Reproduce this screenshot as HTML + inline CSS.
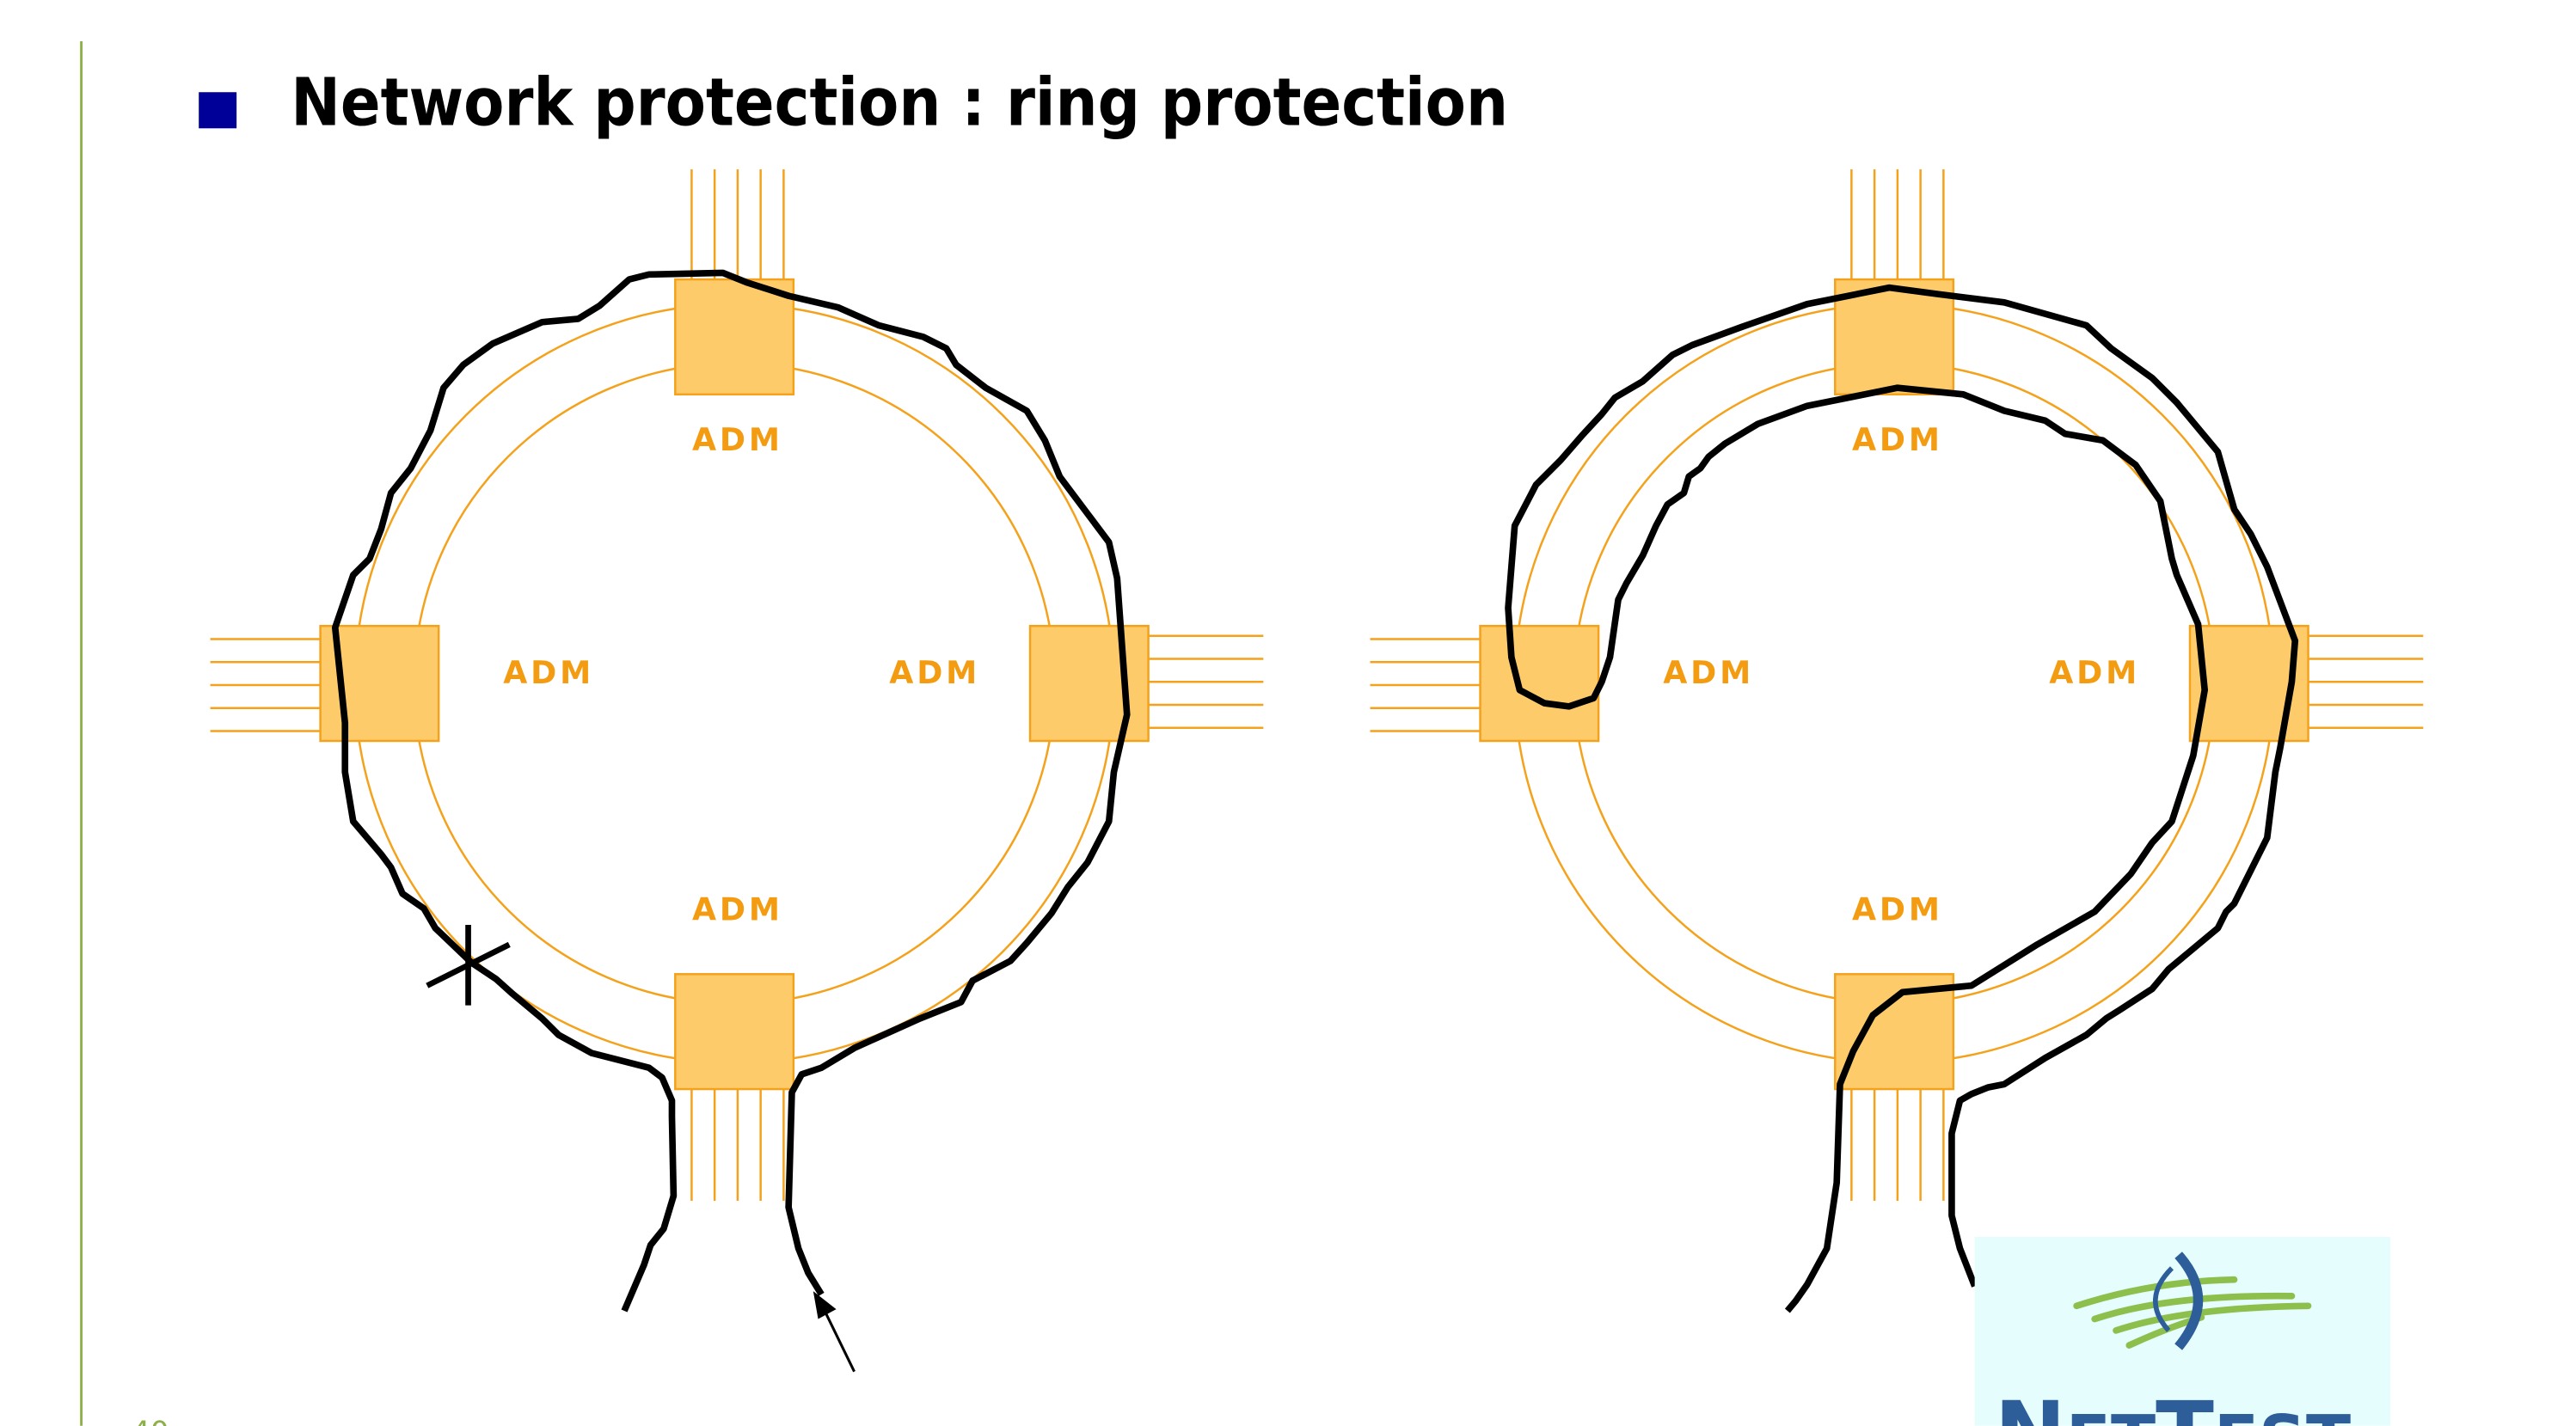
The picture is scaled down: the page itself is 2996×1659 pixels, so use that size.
<!DOCTYPE html>
<html><head><meta charset="utf-8"><style>
html,body{margin:0;padding:0;background:#fff;}
svg{display:block;}
</style></head><body>
<svg width="2996" height="1659" viewBox="0 0 1568 868" xmlns="http://www.w3.org/2000/svg">
<rect width="1568" height="868" fill="#fff"/>
<line x1="49.5" y1="25" x2="49.5" y2="868" stroke="#8DB04A" stroke-width="1.5"/>
<rect x="121" y="56" width="23" height="22" fill="#000099"/>
<text x="177" y="76" font-family="DejaVu Sans, Liberation Sans, sans-serif" font-weight="bold" font-size="40" textLength="741" lengthAdjust="spacingAndGlyphs">Network protection : ring protection</text>
<text x="80" y="878" font-family="DejaVu Sans, Liberation Sans, sans-serif" font-size="18" fill="#8DB04A">40</text>

<g id="ringL" stroke="#F4A11B" stroke-width="1.3" fill="none">
<circle cx="447" cy="416" r="231"/>
<circle cx="447" cy="416" r="195"/>
<path d="M421 103V170M435 103V170M449 103V170M463 103V170M477 103V170"/>
<path d="M421 663V731M435 663V731M449 663V731M463 663V731M477 663V731"/>
<path d="M128 389H195M128 403H195M128 417H195M128 431H195M128 445H195"/>
<path d="M699 387H769M699 401H769M699 415H769M699 429H769M699 443H769"/>
<g fill="#FECB6B">
<rect x="411" y="170" width="72" height="70"/>
<rect x="195" y="381" width="72" height="70"/>
<rect x="627" y="381" width="72" height="70"/>
<rect x="411" y="593" width="72" height="70"/>
</g>
</g>
<g font-family="DejaVu Sans, Liberation Sans, sans-serif" font-weight="bold" font-size="19" fill="#F39C12" text-anchor="middle" letter-spacing="2">
<text x="449" y="274">ADM</text><text x="334" y="416">ADM</text><text x="569" y="416">ADM</text><text x="449" y="560">ADM</text>
</g>
<use href="#ringL" x="706"/>
<g font-family="DejaVu Sans, Liberation Sans, sans-serif" font-weight="bold" font-size="19" fill="#F39C12" text-anchor="middle" letter-spacing="2">
<text x="1155" y="274">ADM</text><text x="1040" y="416">ADM</text><text x="1275" y="416">ADM</text><text x="1155" y="560">ADM</text>
</g>

<g stroke="#000" stroke-width="4" fill="none" stroke-linejoin="round" stroke-linecap="butt">
<path d="M380 798 L392 770 L396 758 L404 748 L410 728 L409 680 L409 670 L403 656 L395 650 L360 641 L340 630 L330 620 L312 605 L302 596 L287 586 L265 565 L258 553 L245 544 L238 528 L232 520 L215 500 L210 470 L210 440 L204 382 L215 350 L225 340 L232 322 L238 300 L250 285 L262 262 L270 236 L282 222 L300 209 L330 196 L352 194 L365 186 L383 170 L395 167 L440 166 L455 172 L480 180 L510 187 L535 198 L562 205 L576 212 L582 222 L600 236 L625 250 L636 268 L645 290 L675 330 L680 352 L686 435 L678 470 L675 500 L662 525 L650 540 L640 556 L625 574 L615 585 L592 597 L585 610 L560 620 L520 638 L500 650 L488 654 L482 665 L480 735 L486 760 L492 775 L500 788"/>
<path d="M1088 798 L1093 792 L1100 782 L1112 760 L1118 720 L1120 660 L1128 640 L1140 618 L1158 604 L1200 600 L1240 575 L1275 555 L1297 532 L1310 513 L1322 500 L1335 460 L1342 420 L1338 380 L1325 350 L1322 340 L1315 305 L1300 283 L1280 268 L1257 264 L1245 256 L1220 250 L1195 240 L1155 236 L1130 241 L1100 247 L1070 258 L1050 270 L1040 278 L1035 285 L1028 290 L1025 300 L1015 307 L1008 320 L1000 338 L990 355 L985 365 L980 400 L975 415 L970 425 L955 430 L940 428 L925 420 L920 400 L918 370 L922 320 L935 295 L950 280 L963 265 L975 252 L983 242 L1000 232 L1018 216 L1030 210 L1060 199 L1100 185 L1150 175 L1180 179 L1220 184 L1270 198 L1285 212 L1310 230 L1325 245 L1350 275 L1360 310 L1370 325 L1380 345 L1397 390 L1395 415 L1388 455 L1385 470 L1380 510 L1375 520 L1360 550 L1355 555 L1350 565 L1320 590 L1310 602 L1290 615 L1282 620 L1270 630 L1245 644 L1220 660 L1210 662 L1200 666 L1193 670 L1188 690 L1188 740 L1193 760 L1202 783"/>
<path d="M260 600 L310 575 M285 563 L285 612" stroke-width="3.5"/>
</g>
<line x1="520" y1="835" x2="501" y2="796" stroke="#000" stroke-width="1.6"/>
<polygon points="495,786 509,797 498,803" fill="#000"/>

<rect x="1202" y="753" width="253" height="115" fill="#E6FDFE"/>
<g stroke="#8DBF4C" stroke-width="4" stroke-linecap="round" fill="none">
<path d="M1264 795 Q1310 780 1360 779"/>
<path d="M1275 803 Q1320 788 1395 789"/>
<path d="M1288 810 Q1330 796 1405 795"/>
<path d="M1296 819 Q1320 808 1340 802"/>
</g>
<path d="M1326 764 Q1350 791 1326 820" stroke="#2E5E9A" stroke-width="6" fill="none"/>
<path d="M1322 772 Q1303 791 1320 810" stroke="#2E5E9A" stroke-width="3" fill="none"/>
<text x="1214" y="890" font-family="DejaVu Sans, Liberation Sans, sans-serif" font-weight="bold" font-size="52" fill="#2E5E9A">N<tspan font-size="40">ET</tspan>T<tspan font-size="40">EST</tspan></text>
</svg>
</body></html>
